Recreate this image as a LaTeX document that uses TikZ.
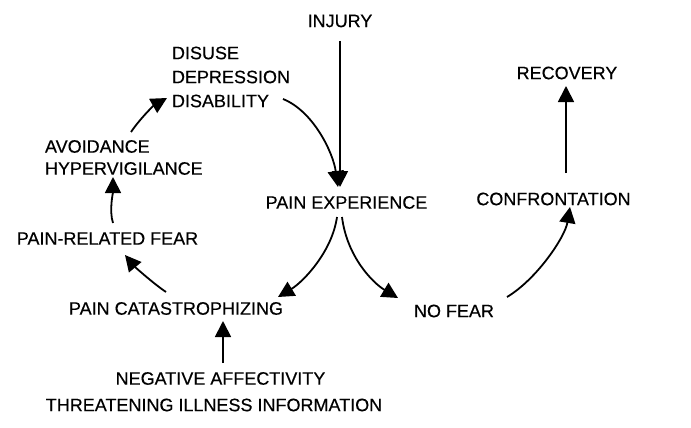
\documentclass[tikz,border=0pt]{standalone}
\usepackage{fontspec}
\setmainfont{Liberation Sans}[FakeBold=0.4]
\usetikzlibrary{arrows.meta}
\begin{document}
\begin{tikzpicture}[x=1pt,y=-1pt,
  every node/.style={inner sep=0pt,outer sep=0pt,font=\fontsize{18}{21}\selectfont},
  lw/.style={anchor=west},
  arr/.style={-{Triangle[length=16pt,width=16pt]},line width=1.8pt}]
\useasboundingbox[fill=white] (0,0) rectangle (691,428);
% nodes
\node (inj) at (340,21) {INJURY};
\node[lw] (dis1) at (172,53) {DISUSE};
\node[lw] (dis2) at (172,77) {DEPRESSION};
\node[lw] (dis3) at (172,101) {DISABILITY};
\node (rec) at (567,73) {RECOVERY};
\node[lw] (av1) at (45,146.5) {AVOIDANCE};
\node[lw] (av2) at (45,168.5) {HYPERVIGILANCE};
\node (pe) at (346.5,202.5) {PAIN EXPERIENCE};
\node (con) at (553.5,199) {CONFRONTATION};
\node (prf) at (107.5,238.5) {PAIN-RELATED FEAR};
\node (pc) at (176,308.5) {PAIN CATASTROPHIZING};
\node (nf) at (454,311) {NO FEAR};
\node (na) at (220.5,378.5) {NEGATIVE AFFECTIVITY};
\node (ti) at (214,405) {THREATENING ILLNESS INFORMATION};
% connectors
\draw[arr] ([shift={(0,20)}]inj.center) -- ([shift={(-6.5,-15.5)}]pe.center);
\draw[arr] ([shift={(111,-2)}]dis3.west) .. controls +(30,12) and +(-5,-35) .. ([shift={(-8.5,-15.5)}]pe.center);
\draw[arr] ([shift={(86,-14.5)}]av1.west) .. controls +(8,-12) and +(-14,8) .. ([shift={(-5,-3)}]dis3.west);
\draw[arr] ([shift={(5.5,-15.5)}]prf.center) .. controls +(-4,-12) and +(0,15) .. ([shift={(68,8.5)}]av2.west);
\draw[arr] ([shift={(-10,-16.5)}]pc.center) .. controls +(-12,-8) and +(10,12) .. ([shift={(17.5,16.5)}]prf.center);
\draw[arr] ([shift={(-9.5,14.5)}]pe.center) .. controls +(-5,35) and +(25,-15) .. ([shift={(102,-11.5)}]pc.center);
\draw[arr] ([shift={(-4.5,14.5)}]pe.center) .. controls +(5,40) and +(-25,-15) .. ([shift={(-56,-13)}]nf.center);
\draw[arr] ([shift={(53,-14)}]nf.center) .. controls +(30,-18) and +(-5,30) .. ([shift={(16.5,8)}]con.center);
\draw[arr] ([shift={(12.5,-26)}]con.center) -- ([shift={(-1,13)}]rec.center);
\draw[arr] ([shift={(2.5,-15.5)}]na.center) -- ([shift={(47,12.5)}]pc.center);
\end{tikzpicture}
\end{document}
